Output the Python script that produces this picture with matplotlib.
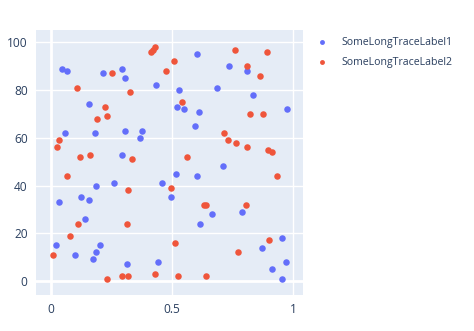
import matplotlib
matplotlib.use("Agg")
import matplotlib.pyplot as plt

blue_x = [0.047, 0.066, 0.213, 0.293, 0.305, 0.433, 0.157, 0.059, 0.183, 0.307, 0.377, 0.367, 0.293,
          0.603, 0.735, 0.810, 0.527, 0.686, 0.835, 0.521, 0.549, 0.610, 0.973, 0.594,
          0.034, 0.122, 0.157, 0.184, 0.260, 0.458, 0.497, 0.516, 0.140, 0.021, 0.099, 0.201, 0.186, 0.172, 0.312, 0.442,
          0.601, 0.710, 0.664, 0.614, 0.788, 0.953, 0.869, 0.969, 0.912, 0.952]
blue_y = [89, 88, 87, 89, 85, 82, 74, 62, 62, 63, 63, 60, 53,
          95, 90, 88, 80, 81, 78, 73, 72, 71, 72, 65,
          33, 35, 34, 40, 41, 41, 35, 45, 26, 15, 11, 15, 12, 9, 7, 8,
          44, 48, 28, 24, 29, 18, 14, 8, 5, 1]

red_x = [0.411, 0.419, 0.428, 0.250, 0.109, 0.327, 0.223, 0.189, 0.230, 0.033, 0.026, 0.120, 0.161, 0.333, 0.475, 0.508,
         0.758, 0.890, 0.810, 0.864, 0.541, 0.821, 0.874, 0.715, 0.732, 0.764, 0.810, 0.896, 0.911, 0.563,
         0.065, 0.319, 0.495, 0.111, 0.312, 0.077, 0.007, 0.230, 0.292, 0.317, 0.429, 0.513,
         0.933, 0.633, 0.641, 0.806, 0.898, 0.773, 0.524, 0.638]
red_y = [96, 97, 98, 87, 81, 79, 73, 68, 69, 59, 56, 52, 53, 51, 88, 92,
         97, 96, 90, 86, 75, 70, 70, 62, 59, 58, 56, 55, 54, 52,
         44, 38, 39, 24, 24, 19, 11, 1, 2, 2, 3, 16,
         44, 32, 32, 32, 17, 12, 2, 2]

labels = ["SomeLongTraceLabel1", "SomeLongTraceLabel2"]
xticks = [0, 0.5, 1]
xticklabels = ["0", "0.5", "1"]
yticks = [0, 20, 40, 60, 80, 100]

plt.rcParams['font.family'] = ['Open Sans', 'DejaVu Sans']
W, H = 474, 331
fig = plt.figure(figsize=(W / 100, H / 100), dpi=100)
ax = fig.add_axes([36 / W, 1 - 295 / H, (303 - 36) / W, (295 - 30) / H])
ax.set_facecolor('#E5ECF6')
for s in ax.spines.values():
    s.set_visible(False)

for t in xticks:
    ax.axvline(t, color='white', lw=2.0 if t == 0 else 1.0, zorder=1)
for t in yticks:
    ax.axhline(t, color='white', lw=2.0 if t == 0 else 1.0, zorder=1)

ax.scatter(blue_x, blue_y, s=22, color='#636EFA', zorder=3, linewidths=0, label=labels[0])
ax.scatter(red_x, red_y, s=22, color='#EF553B', zorder=3, linewidths=0, label=labels[1])

ax.set_xlim(-0.062, 1.04)
ax.set_ylim(-5.9, 105.2)
ax.set_xticks(xticks)
ax.set_xticklabels(xticklabels)
ax.set_yticks(yticks)
ax.tick_params(length=0, labelsize=8.6, labelcolor='#2a3f5f', pad=6)

fig.legend(loc='upper left', bbox_to_anchor=(316.7 / W, 1 - 37 / H), frameon=False,
           fontsize=7.6, labelcolor='#2a3f5f', handlelength=1.0, handletextpad=1.3,
           labelspacing=0.85, borderpad=0, borderaxespad=0, markerscale=0.75)

fig.savefig('out.png', dpi=100)
